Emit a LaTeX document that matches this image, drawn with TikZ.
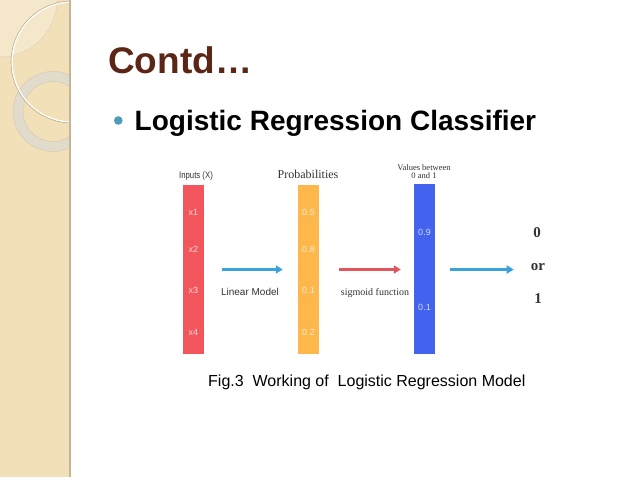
\documentclass[tikz,border=0pt]{standalone}
\usepackage{fontspec}
\setmainfont{Liberation Sans}
\newfontfamily\serifnf{Liberation Serif}
\usepackage{tikz}
\usetikzlibrary{arrows.meta,positioning}
\definecolor{panel}{HTML}{F2E0B8}
\definecolor{lens}{HTML}{F5E8CA}
\definecolor{edge}{HTML}{C5B596}
\definecolor{ringc}{HTML}{E0DBCF}
\definecolor{arcc}{HTML}{BFAE90}
\definecolor{title}{HTML}{5B2616}
\definecolor{bullet}{HTML}{4A9CB8}
\definecolor{redbar}{HTML}{F2555C}
\definecolor{orabar}{HTML}{FDB74A}
\definecolor{blubar}{HTML}{4363EE}
\definecolor{cyanA}{HTML}{3BA3DC}
\definecolor{redA}{HTML}{E2555B}
\definecolor{ink}{HTML}{333333}
\tikzset{
  bar/.style={minimum width=21pt, minimum height=169pt, inner sep=0pt},
  barlab/.style={text=white, opacity=0.75, inner sep=0pt, font=\fontsize{9}{10}\selectfont},
  arrC/.style={-{Triangle[length=7pt,width=8pt]}, line width=2.8pt, draw=cyanA},
  arrR/.style={-{Triangle[length=7pt,width=8pt]}, line width=2.8pt, draw=redA},
  head/.style={text=ink, inner sep=0pt, font=\fontsize{9}{10}\selectfont},
  heads/.style={text=ink, inner sep=0pt, font=\serifnf\fontsize{9}{10}\selectfont},
  outv/.style={text=ink, inner sep=0pt, font=\serifnf\bfseries\fontsize{15}{16}\selectfont}
}
\begin{document}
\begin{tikzpicture}[x=1pt, y=-1pt]
  \useasboundingbox (0,0) rectangle (638,479);
  \fill[white] (0,0) rectangle (638,479);

  % side panel
  \fill[panel] (0,0) rectangle (69,477);
  \begin{scope}
    \clip (0,0) rectangle (69,477);
    \fill[lens] (0,0) circle (57);
    \draw[arcc!60, line width=0.4pt] (0,0) circle (57);
    \draw[ringc, line width=10pt, opacity=0.9] (53,111.5) circle (35);
    \draw[arcc!70, line width=0.4pt] (53,111.5) circle (40) (53,111.5) circle (30);
    \draw[white, line width=1.4pt] (72,62) circle (60);
    \draw[arcc, line width=0.6pt] (72,62) circle (61);
  \end{scope}
  \fill[edge] (69,0) rectangle (71,477);

  % titles
  \node[anchor=base west, inner sep=0pt, text=title, font=\bfseries\fontsize{37}{40}\selectfont] (ttl) at (108,73) {Contd…};
  \fill[bullet] (118.3,120.5) circle (4.3);
  \node[anchor=base west, inner sep=0pt, font=\bfseries\fontsize{28}{30}\selectfont] (sub) at (134.5,130) {Logistic Regression Classifier};

  % bars
  \node[bar, fill=redbar] (inp) at (193.5,269.5) {};
  \node[bar, fill=orabar] (prob) at (308.5,269.5) {};
  \node[bar, fill=blubar, minimum height=170pt] (vals) at (424.5,269) {};

  \node[head, font=\fontsize{9.5}{10}\selectfont\addfontfeatures{FakeStretch=0.82}] (hin) at (196,176) {Inputs (X)};
  \node[heads, font=\serifnf\fontsize{12}{13}\selectfont] (hprob) at (308,174) {Probabilities};
  \node[heads, font=\serifnf\fontsize{8.5}{9}\selectfont, align=center] (hval) at (424,171.5) {Values between\\[-1.5pt]0 and 1};

  \node[barlab] (x1) at (193.5,212) {x1};
  \node[barlab] (x2) at (193.5,249) {x2};
  \node[barlab] (x3) at (193.5,290) {x3};
  \node[barlab] (x4) at (193.5,332) {x4};
  \node[barlab] (p1) at (308.5,212) {0.5};
  \node[barlab] (p2) at (308.5,249) {0.8};
  \node[barlab] (p3) at (308.5,290) {0.1};
  \node[barlab] (p4) at (308.5,332) {0.2};
  \node[barlab] (v1) at (424.5,232) {0.9};
  \node[barlab] (v2) at (424.5,307) {0.1};

  % outputs
  \node[outv] (o0) at (537,233) {0};
  \node[outv] (oor) at (538,267) {or};
  \node[outv] (o1) at (538,299) {1};

  % arrows
  \draw[arrC] ([xshift=18pt]inp.east) -- ([xshift=-15pt]prob.west);
  \draw[arrR] ([xshift=20pt]prob.east) -- ([xshift=-13pt]vals.west |- prob.east);
  \draw[arrC] ([xshift=15pt]vals.east |- prob.east) -- ([xshift=-17pt]oor.west |- prob.east);
  \node[head, font=\fontsize{10}{11}\selectfont] (lin) at (250,292) {Linear Model};
  \node[heads, font=\serifnf\fontsize{10}{11}\selectfont] (sig) at (375,293) {sigmoid function};

  % caption
  \node[anchor=base west, inner sep=0pt, font=\fontsize{16}{18}\selectfont] (cap) at (208,386.5) {Fig.3\ \ Working of\ \ Logistic Regression Model};
\end{tikzpicture}
\end{document}
